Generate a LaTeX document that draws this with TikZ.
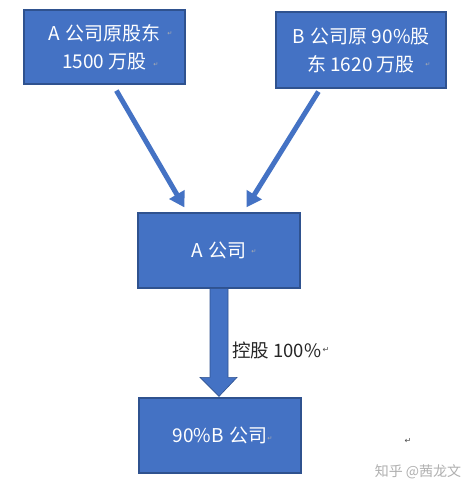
\documentclass[tikz,border=0pt]{standalone}
\usepackage{fontspec}
\setmainfont{Noto Sans CJK SC}
\newfontfamily\symfont{DejaVu Sans}
\usetikzlibrary{arrows.meta,calc}
\definecolor{boxfill}{HTML}{4472C4}
\definecolor{boxline}{HTML}{2F528F}
\definecolor{markgray}{HTML}{B0B0B0}
\tikzset{
  box/.style={draw=boxline, line width=1.2pt, fill=boxfill, text=white,
    minimum width=161pt, minimum height=74pt, inner sep=0pt, align=center,
    font=\fontsize{19}{28}\selectfont},
  thinarrow/.style={draw=boxfill, line width=5pt,
    -{Triangle[width=17pt,length=15pt]}},
  blockarrow/.style={fill=boxfill, draw=boxline, line width=0.6pt},
  pmark/.style={text=markgray, font=\symfont\fontsize{6}{6}\selectfont, inner sep=0pt}
}
\begin{document}
\begin{tikzpicture}[x=1pt,y=-1pt]
\useasboundingbox (0,0) rectangle (474,491);
\fill[white] (0,0) rectangle (474,491);
\node[box] (a) at (104.5,47) {A\hspace{0.3em}公司原股东\\1500 万股};
\node[box, minimum width=170pt, minimum height=76pt] (b) at (361,50) {B\hspace{0.3em}公司原 90\%股\\东 1620 万股};
\node[box, minimum width=162pt, minimum height=75pt] (c) at (219,250.5) {A\hspace{0.3em}公司};
\node[box, minimum width=162pt, minimum height=75pt] (d) at (220,435.5) {90\%B\hspace{0.3em}公司};
% thin arrows
\draw[thinarrow] ($(a.south west)+(93,6)$) -- ($(c.north west)+(47,-5)$);
\draw[thinarrow] ($(b.south west)+(43,3)$) -- ($(c.north west)+(109,-5)$);
% block arrow
\draw[blockarrow] ($(c.south)+(-9,0)$) -- ($(c.south)+(9,0)$) -- ($(d.north)+(8,-20)$)
  -- ($(d.north)+(17,-20)$) -- ($(d.north)+(-1,-1)$) -- ($(d.north)+(-20,-20)$)
  -- ($(d.north)+(-10,-20)$) -- cycle;
\node[anchor=west, inner sep=0pt, text=black!85, font=\fontsize{18.5}{18}\selectfont] (lbl) at (232,350) {控股 100\%};
% paragraph marks
\node[pmark] (m1) at (170,34) {↵};
\node[pmark] (m2) at (156,65) {↵};
\node[pmark] (m3) at (428,65) {↵};
\node[pmark] (m4) at (254,252) {↵};
\node[pmark] (m5) at (270,439) {↵};
\node[pmark, text=black!70, font=\symfont\fontsize{8}{8}\selectfont] (m6) at (326,350) {↵};
\node[pmark, text=black!70, font=\symfont\fontsize{8}{8}\selectfont] (m7) at (408,441) {↵};
\node[text=markgray, font=\fontsize{14}{14}\selectfont, inner sep=0pt] (wm) at (418,472) {知乎 @茜龙文};
\end{tikzpicture}
\end{document}
